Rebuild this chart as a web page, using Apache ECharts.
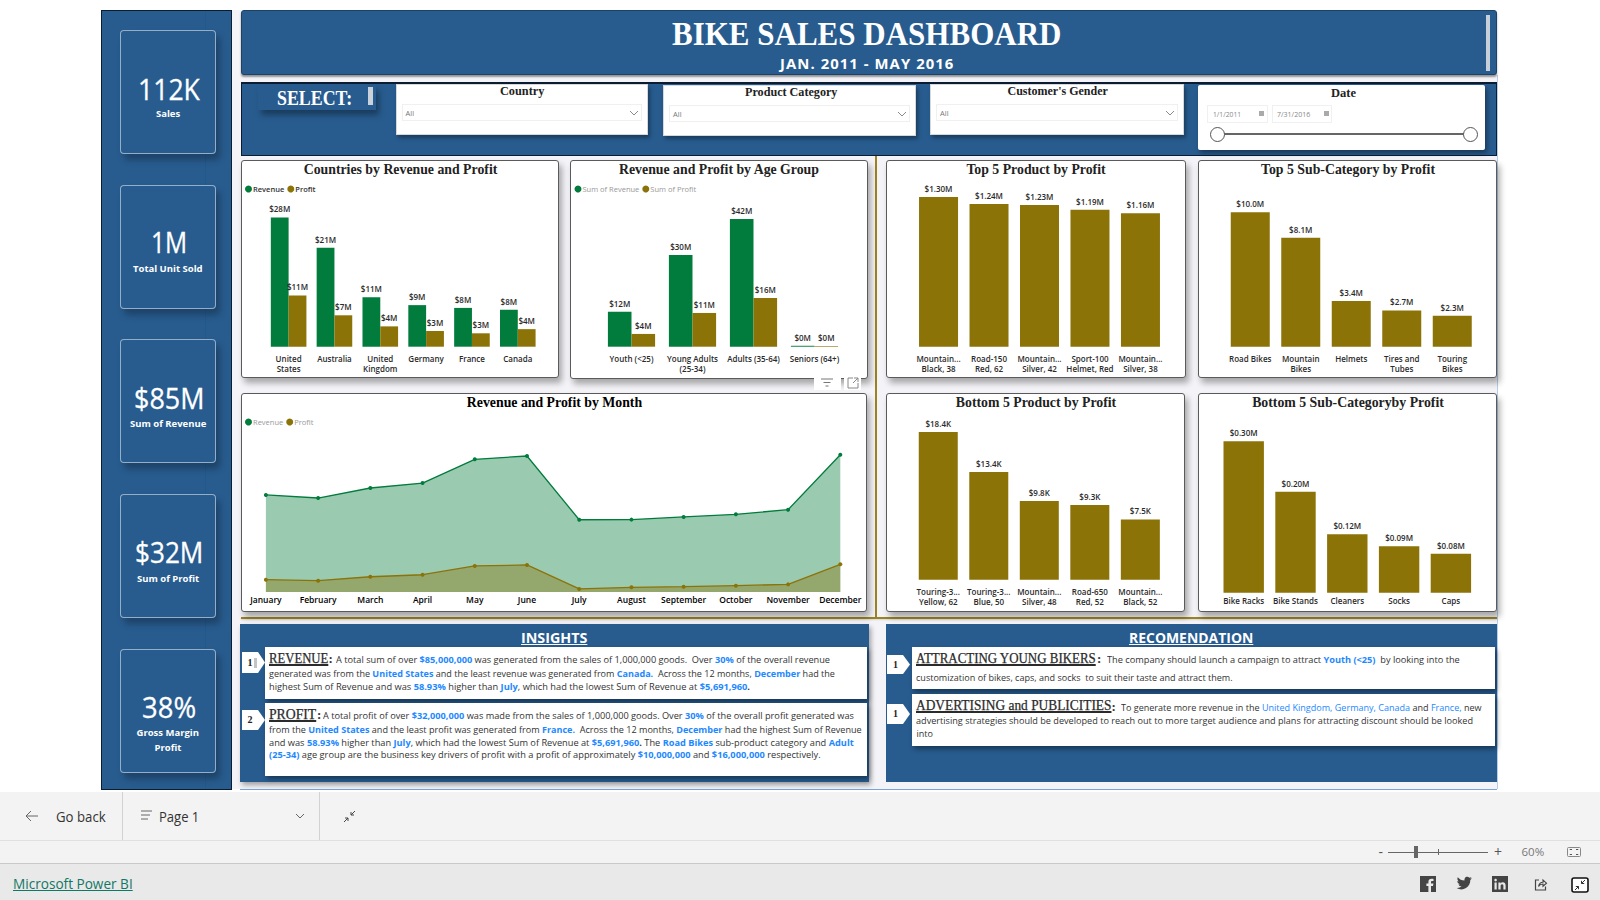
<!DOCTYPE html>
<html>
<head>
<meta charset="utf-8">
<title>Bike Sales Dashboard</title>
<script src="https://cdn.jsdelivr.net/npm/echarts@6/dist/echarts.min.js"></script>
<style>
  html, body { margin: 0; padding: 0; width: 1600px; height: 900px; overflow: hidden; background: #fff; font-family: "Open Sans", "Noto Sans", sans-serif; }
  .box { position: absolute; box-sizing: border-box; }
  .navy { background: #285c8f; }
  .panel { background: #fff; border: 1px solid #5a5a5a; border-radius: 3px; box-shadow: 3px 5px 6px rgba(0,0,0,.32); }
  .kpi { border: 1px solid rgba(255,255,255,.5); border-radius: 4px; box-shadow: 4px 6px 7px rgba(0,0,0,.28); }
  .card { background: #fff; box-shadow: 2px 3px 5px rgba(0,0,0,.4); }
  .t { position: absolute; white-space: pre; transform-origin: left center; }
  .h { color: #1e88ff; font-weight: 700; }
  .l { color: #1e88ff; }
  svg.i { position: absolute; overflow: visible; }
</style>
</head>
<body>
<script>
// Chart data
const countryNames = ['United\nStates', 'Australia', 'United\nKingdom', 'Germany', 'France', 'Canada'];
const countryRevenue = [28.0, 21.4, 10.7, 9.0, 8.4, 8.0];
const countryProfit = [11.1, 6.8, 4.4, 3.4, 2.9, 3.8];

const ageGroups = ['Youth (<25)', 'Young Adults\n(25-34)', 'Adults (35-64)', 'Seniors (64+)'];
const ageRevenue = [11.5, 30.2, 42.0, 0.3];
const ageProfit = [4.2, 11.1, 16.0, 0.2];

const monthNames = ['January', 'February', 'March', 'April', 'May', 'June', 'July', 'August', 'September', 'October', 'November', 'December'];
const monthRevenue = [7.64, 7.40, 8.19, 8.58, 10.45, 10.71, 5.69, 5.70, 5.91, 6.12, 6.48, 10.81];
const monthProfit = [0.97, 0.89, 1.20, 1.36, 2.05, 2.13, 0.24, 0.37, 0.42, 0.50, 0.60, 2.18];

const topProducts = ['Mountain...\nBlack, 38', 'Road-150\nRed, 62', 'Mountain...\nSilver, 42', 'Sport-100\nHelmet, Red', 'Mountain...\nSilver, 38'];
const topProductProfit = [1.30, 1.24, 1.23, 1.19, 1.16];

const topSubs = ['Road Bikes', 'Mountain\nBikes', 'Helmets', 'Tires and\nTubes', 'Touring\nBikes'];
const topSubProfit = [10.0, 8.1, 3.4, 2.7, 2.3];

const bottomProducts = ['Touring-3...\nYellow, 62', 'Touring-3...\nBlue, 50', 'Mountain...\nSilver, 48', 'Road-650\nRed, 52', 'Mountain...\nBlack, 52'];
const bottomProductProfit = [18.4, 13.4, 9.8, 9.3, 7.5];

const bottomSubs = ['Bike Racks', 'Bike Stands', 'Cleaners', 'Socks', 'Caps'];
const bottomSubProfit = [0.30, 0.20, 0.116, 0.092, 0.077];

const kpiValues = ['112K', '1M', '$85M', '$32M', '38%'];
const kpiLabels = ['Sales', 'Total Unit Sold', 'Sum of Revenue', 'Sum of Profit', 'Gross Margin\nProfit'];

// Palette and fonts
const GREEN = '#027c3c', GOLD = '#8b7308', RULE = '#9a8320';
const SERIF = '"Liberation Serif", serif';
const SANS = '"Open Sans", "Noto Sans", sans-serif';

// Small DOM helpers for the report frame
function box(x, y, w, h, cls, css) {
  const d = document.createElement('div');
  d.className = 'box ' + (cls || '');
  d.style.cssText = `left:${x}px;top:${y}px;width:${w}px;height:${h}px;` + (css || '');
  document.body.appendChild(d);
  return d;
}
// Places a single line of text centred on y; w squeezes it to a set width.
function text(o) {
  const d = document.createElement('div');
  d.className = 't';
  d.innerHTML = o.html;
  const lh = Math.round(o.size * 1.4);
  d.style.cssText = `top:${o.y - lh / 2}px;line-height:${lh}px;font-size:${o.size}px;font-family:${o.font || SANS};` +
    `font-weight:${o.weight || 400};color:${o.color || '#333'};` + (o.css || '');
  document.body.appendChild(d);
  const natural = d.offsetWidth;
  const w = o.w || natural;
  const left = o.cx !== undefined ? o.cx - w / 2 : o.x;
  d.style.left = left + 'px';
  if (o.w) d.style.transform = `scaleX(${o.w / natural})`;
  return d;
}
function icon(x, y, w, h, inner) {
  const s = document.createElementNS('http://www.w3.org/2000/svg', 'svg');
  s.setAttribute('class', 'i');
  s.setAttribute('width', w); s.setAttribute('height', h);
  s.setAttribute('viewBox', `0 0 ${w} ${h}`);
  s.style.left = x + 'px'; s.style.top = y + 'px';
  s.innerHTML = inner;
  document.body.appendChild(s);
}

// Report canvas
box(231, 10, 1266, 779, '', 'background:#f4f3f7;');
box(240, 788.5, 1257, 1, '', 'background:#7ba3d4;');
box(1497, 75, 1, 714, '', 'background:#b9cde6;');

// Left KPI rail
box(101, 10, 131, 780, 'navy', 'border:1px solid #0b1d33;');
box(205, 11, 1, 778, '', 'background:#1f5a8c;');
const kpiTops = [30, 185, 339, 494, 649];
const kpiValueY = [88.5, 242, 398, 552, 707];
const kpiLabelY = [113.5, 268.5, 423.5, 578, 732.5];
kpiValues.forEach((v, i) => {
  box(120, kpiTops[i], 96, 123.5, 'navy kpi');
  text({ cx: 168.5, y: kpiValueY[i], html: v, size: 30, color: '#fff', w: [62, 36, 70, 68, 54][i], css: '-webkit-text-stroke:.3px #fff;' });
  kpiLabels[i].split('\n').forEach((line, j) => {
    text({ cx: 168, y: kpiLabelY[i] + j * 14.5, html: line, size: 9.5, weight: 700, color: '#fff' });
  });
});

// Header band
box(241, 10, 1256, 65, 'navy', 'border-radius:3px;border:1px solid #1d4268;box-shadow:0 2px 2px rgba(0,0,0,.4);');
text({ cx: 866.5, y: 34, html: 'BIKE SALES DASHBOARD', size: 33, weight: 700, font: SERIF, color: '#fff', w: 389 });
text({ cx: 866.5, y: 63.5, html: 'JAN. 2011 - MAY 2016', size: 14, weight: 700, color: '#fff', w: 174, css: 'letter-spacing:1px;' });
box(1486, 15, 4, 56, '', 'background:#c6d0da;');

// Filter band
box(241, 82, 1256, 74, 'navy', 'border:1px solid #0b1d33;border-top:2px solid #0b1d33;');
box(258, 85, 118, 25, 'navy', 'box-shadow:3px 5px 6px rgba(0,0,0,.35);');
text({ x: 277, y: 98, html: 'SELECT:', size: 20, weight: 700, font: SERIF, color: '#fff', w: 75 });
box(368, 87, 5, 18, '', 'background:#c9d2da;');

const chevron = '<path d="M1 1 L5 5 L9 1" fill="none" stroke="#8a8a8a" stroke-width="1"/>';
[[395.5, 84, 252, 'Country', 44, 522, 91.2], [663, 85, 253, 'Product Category', 92, 790.5, 92.2], [930, 84, 254, "Customer's Gender", 100, 1057.5, 91.5]].forEach(s => {
  const [x, y, w, name, tw, cx, ty] = s;
  box(x, y, w, 51, 'card', 'box-shadow:2px 3px 4px rgba(0,0,0,.35);border:1px solid #d8d8d8;');
  text({ cx, y: ty, html: name, size: 12, weight: 700, font: SERIF, color: '#222', w: tw });
  box(x + 6, y + 20, w - 12, 17, '', 'border:1px solid #f0f0f0;');
  text({ x: x + 10, y: y + 29, html: 'All', size: 7.5, color: '#777' });
  icon(x + w - 19, y + 26, 10, 6, chevron);
});

// Date slicer
box(1198, 85, 287, 65, 'card', 'border-radius:2px;');
text({ cx: 1343, y: 93.5, html: 'Date', size: 12, weight: 700, font: SERIF, color: '#222', w: 25 });
box(1207, 105, 61, 18, '', 'border:1px solid #f0f0f0;');
box(1272, 105, 60, 18, '', 'border:1px solid #f0f0f0;');
text({ x: 1213, y: 114.5, html: '1/1/2011', size: 7, color: '#888', w: 28 });
text({ x: 1277, y: 114.5, html: '7/31/2016', size: 7, color: '#888', w: 33 });
box(1259, 111, 5, 5, '', 'background:#aaa;');
box(1324, 111, 5, 5, '', 'background:#aaa;');
box(1217, 133, 253, 2, '', 'background:#666;');
box(1210, 127, 15, 15, '', 'background:#fff;border:1.5px solid #555;border-radius:50%;');
box(1463, 127, 15, 15, '', 'background:#fff;border:1.5px solid #555;border-radius:50%;');

// Gold dividers between the chart groups
box(874.5, 156, 2, 463, '', `background:${RULE};`);
box(241, 617, 1256, 2, '', `background:${RULE};box-shadow:0 1px 2px rgba(0,0,0,.12);`);

// Chart factory: each visual gets its own panel and ECharts instance, laid out in page pixels.
function makeChart(rect, title, titleCx, titleY, titleStyle, legend, xAxis, yMax, plot, series) {
  const [x, y, w, h] = rect;
  const el = box(x, y, w, h, 'panel');
  const chart = echarts.init(el, null, { renderer: 'svg', width: w - 2, height: h - 2 });
  const opt = {
    animation: false,
    title: {
      text: title, left: titleCx - x - 1, top: titleY - y - 1, textAlign: 'center', textVerticalAlign: 'middle', padding: 0,
      textStyle: Object.assign({ fontFamily: SERIF, fontSize: 13.8, fontWeight: 700, color: '#222' }, titleStyle)
    },
    grid: { left: plot.left - x - 1, right: x + w - 1 - plot.right, top: plot.top - y - 1, bottom: y + h - 1 - plot.base, containLabel: false },
    xAxis: Object.assign({
      type: 'category', data: xAxis.data, boundaryGap: xAxis.boundaryGap !== false,
      axisLine: { show: false }, axisTick: { show: false }, splitLine: { show: false },
      axisLabel: { interval: 0, color: xAxis.color || '#2a2a2a', fontFamily: SANS, fontSize: xAxis.size || 8, fontWeight: xAxis.weight || 600, lineHeight: 10, margin: xAxis.margin }
    }),
    yAxis: { type: 'value', min: 0, max: yMax, show: false, splitLine: { show: false } },
    series
  };
  if (legend) {
    opt.legend = {
      left: legend.x - x - 1, top: legend.y - y - 5, padding: 0, icon: 'circle', itemWidth: 7, itemHeight: 7, itemGap: 3,
      data: legend.names,
      textStyle: { fontFamily: SANS, fontSize: 7.5, fontWeight: legend.weight || 400, color: legend.color, padding: [0, 0, 0, -4] }
    };
  }
  chart.setOption(opt);
  return chart;
}
function barSeries(name, data, color, width, fmt) {
  return {
    type: 'bar', name, data, barWidth: width, barGap: 0,
    itemStyle: { color },
    label: { show: true, position: 'top', distance: 4.5, formatter: p => fmt(p.value), fontFamily: SANS, fontSize: 8, fontWeight: 600, color: '#2a2a2a' }
  };
}
const wholeM = v => `$${Math.round(v)}M`;
const oneM = v => `$${v.toFixed(1)}M`;
const twoM = v => `$${v.toFixed(2)}M`;
const oneK = v => `$${v.toFixed(1)}K`;

makeChart([241, 160, 318, 218], 'Countries by Revenue and Profit', 400.5, 169.7, {}, { x: 245, y: 189, names: ['Revenue', 'Profit'], color: '#333', weight: 600 },
  { data: countryNames, margin: 7 }, 32, { left: 265.7, right: 540.7, top: 198.9, base: 346.7 },
  [barSeries('Revenue', countryRevenue, GREEN, 17.8, wholeM), barSeries('Profit', countryProfit, GOLD, 17.8, wholeM)]);

makeChart([569.5, 160, 298, 219], 'Revenue and Profit by Age Group', 718.5, 169.7, {}, { x: 574, y: 189, names: ['Sum of Revenue', 'Sum of Profit'], color: '#999' },
  { data: ageGroups, margin: 7 }, 48, { left: 600.5, right: 844.5, top: 200.8, base: 346.7 },
  [barSeries('Sum of Revenue', ageRevenue, GREEN, 23.6, wholeM), barSeries('Sum of Profit', ageProfit, GOLD, 23.6, wholeM)]);

makeChart([886, 160, 300, 218], 'Top 5 Product by Profit', 1036, 169.7, {}, null,
  { data: topProducts, margin: 7 }, 1.4, { left: 913.3, right: 1165.7, top: 185.5, base: 346.7 },
  [barSeries('Profit', topProductProfit, GOLD, 39, twoM)]);

makeChart([1198, 160, 299, 218], 'Top 5 Sub-Category by Profit', 1348, 169.7, {}, null,
  { data: topSubs, margin: 7 }, 12, { left: 1225, right: 1477.5, top: 185.4, base: 346.7 },
  [barSeries('Profit', topSubProfit, GOLD, 39, oneM)]);

makeChart([240.5, 393, 626.5, 219], 'Revenue and Profit by Month', 554, 402.7, { color: '#000' }, { x: 244.5, y: 422, names: ['Revenue', 'Profit'], color: '#999' },
  { data: monthNames, boundaryGap: false, margin: 2, size: 8.5, color: '#000' }, 15, { left: 265.4, right: 839.8, top: 401.5, base: 592 },
  [
    { type: 'line', name: 'Revenue', data: monthRevenue, symbol: 'circle', symbolSize: 4, lineStyle: { color: GREEN, width: 1.3 }, itemStyle: { color: GREEN }, areaStyle: { color: GREEN, opacity: 0.4 } },
    { type: 'line', name: 'Profit', data: monthProfit, symbol: 'circle', symbolSize: 4, lineStyle: { color: GOLD, width: 1.3 }, itemStyle: { color: GOLD }, areaStyle: { color: GOLD, opacity: 0.4 } }
  ]);

makeChart([886, 393, 299, 219], 'Bottom 5 Product by Profit', 1036, 402, {}, null,
  { data: bottomProducts, margin: 7 }, 22, { left: 913, right: 1165.6, top: 403, base: 579.7 },
  [barSeries('Profit', bottomProductProfit, GOLD, 39, oneK)]);

makeChart([1198, 393, 299, 219], 'Bottom 5 Sub-Categoryby Profit', 1348, 402, {}, null,
  { data: bottomSubs, margin: 3 }, 0.34, { left: 1217.8, right: 1476.8, top: 421.1, base: 592.7 },
  [barSeries('Profit', bottomSubProfit, GOLD, 40.4, twoM)]);

// Visual header buttons above the month panel
box(814, 375, 27, 15, '', 'background:#fff;');
box(844, 375, 17, 15, '', 'background:#fff;');
icon(820, 378, 14, 10, '<path d="M1 1H13M3.5 4.5H10.5M5.5 8H8.5" stroke="#777" stroke-width="1" fill="none"/>');
icon(847, 377, 12, 12, '<path d="M6 1H1V11H11V6M7 1H11V5M11 1L6 6" stroke="#888" stroke-width="1" fill="none"/>');

// Insights block
function tag(x, y, w, h, n) {
  icon(x, y, w, h, `<polygon points="0,0 ${w - 7},0 ${w},${h / 2} ${w - 7},${h} 0,${h}" fill="#fff"/>`);
  text({ x: x + 6, y: y + h / 2, html: n, size: 10, weight: 700, color: '#222', font: SERIF });
}
const LEAD = { size: 14, font: SERIF, weight: 400, color: '#2b2b2b', css: 'text-decoration:underline;text-decoration-thickness:1.5px;-webkit-text-stroke:.25px #2b2b2b;' };

box(240, 624, 628.5, 158, 'navy', 'box-shadow:2px 3px 5px rgba(0,0,0,.35);');
text({ cx: 553.5, y: 638, html: 'INSIGHTS', size: 14.5, weight: 700, color: '#fff', w: 66, css: 'text-decoration:underline;' });
box(265, 647, 602, 52, 'card');
box(265, 703, 602, 73, 'card');
tag(241.5, 652, 23, 21, '1');
box(254, 658, 3, 10, '', 'background:#c4c4c4;');
tag(241.5, 710, 23, 20, '2');

text(Object.assign({}, LEAD, { x: 269.4, y: 658.5, html: 'REVENUE', w: 59 }));
text({ x: 328.5, y: 659, html: ':', size: 13, font: SERIF, weight: 700, color: '#333' });
text({ x: 335.8, y: 659.7, w: 494, size: 9, html: 'A total sum of over <span class="h">$85,000,000</span> was generated from the sales of 1,000,000 goods.&nbsp; Over <span class="h">30%</span> of the overall revenue' });
text({ x: 269.4, y: 673.7, w: 566, size: 9, html: 'generated was from the <span class="h">United States</span> and the least revenue was generated from <span class="h">Canada.</span>&nbsp; Across the 12 months, <span class="h">December</span> had the' });
text({ x: 269.4, y: 686.7, w: 480.6, size: 9, html: 'highest Sum of Revenue and was <span class="h">58.93%</span> higher than <span class="h">July</span>, which had the lowest Sum of Revenue at <span class="h">$5,691,960</span><b>.</b>' });

text(Object.assign({}, LEAD, { x: 269.4, y: 714.5, html: 'PROFIT', w: 47 }));
text({ x: 317, y: 715, html: ':', size: 13, font: SERIF, weight: 700, color: '#333' });
text({ x: 323, y: 715.7, w: 530.7, size: 9, html: 'A total profit of over <span class="h">$32,000,000</span> was made from the sales of 1,000,000 goods. Over <span class="h">30%</span> of the overall profit generated was' });
text({ x: 269.4, y: 729.7, w: 592.6, size: 9, html: 'from the <span class="h">United States</span> and the least profit was generated from <span class="h">France.</span>&nbsp; Across the 12 months, <span class="h">December</span> had the highest Sum of Revenue' });
text({ x: 269.4, y: 742.7, w: 584.3, size: 9, html: 'and was <span class="h">58.93%</span> higher than <span class="h">July</span>, which had the lowest Sum of Revenue at <span class="h">$5,691,960</span><b>.</b> The <span class="h">Road Bikes</span> sub-product category and <span class="h">Adult</span>' });
text({ x: 269.4, y: 754.7, w: 552, size: 9, html: '<span class="h">(25-34)</span> age group are the business key drivers of profit with a profit of approximately <span class="h">$10,000,000</span> and <span class="h">$16,000,000</span> respectively.' });

// Recommendation block
box(886, 624, 611, 158, 'navy');
text({ cx: 1191, y: 638, html: 'RECOMENDATION', size: 14.5, weight: 700, color: '#fff', w: 124, css: 'text-decoration:underline;' });
box(912, 647, 583, 42, 'card');
box(912, 694, 583, 52, 'card');
tag(887, 655, 23, 19, '1');
tag(887, 704, 23, 20, '1');

text(Object.assign({}, LEAD, { x: 916.4, y: 658.5, html: 'ATTRACTING YOUNG BIKERS', w: 180 }));
text({ x: 1097, y: 659, html: ':', size: 13, font: SERIF, weight: 700, color: '#333' });
text({ x: 1107, y: 659.7, w: 353, size: 9, html: 'The company should launch a campaign to attract <span class="h">Youth (&lt;25)</span>&nbsp; by looking into the' });
text({ x: 916.4, y: 677.7, w: 316.6, size: 9, html: 'customization of bikes, caps, and socks&nbsp; to suit their taste and attract them.' });

text(Object.assign({}, LEAD, { x: 916.4, y: 706, html: 'ADVERTISING and PUBLICITIES', w: 195 }));
text({ x: 1111.5, y: 706.5, html: ':', size: 13, font: SERIF, weight: 700, color: '#333' });
text({ x: 1121, y: 707, w: 360.6, size: 9, html: 'To generate more revenue in the <span class="l">United Kingdom, Germany, Canada</span> and <span class="l">France,</span> new' });
text({ x: 916.4, y: 720.7, w: 557.3, size: 9, html: 'advertising strategies should be developed to reach out to more target audience and plans for attracting discount should be looked' });
text({ x: 916.4, y: 733.7, size: 9, html: 'into' });

// Viewer chrome along the bottom
box(0, 792, 1600, 71, '', 'background:#f3f3f3;');
box(0, 840, 1600, 1, '', 'background:#e0e0e0;');
box(0, 863, 1600, 1, '', 'background:#c9c9c9;');
box(0, 864, 1600, 36, '', 'background:#e9e9e9;');
box(122, 792, 1, 48, '', 'background:#d2d2d2;');
box(319, 792, 1, 48, '', 'background:#d2d2d2;');
icon(25, 810, 14, 12, '<path d="M13 6H1M6 1L1 6L6 11" fill="none" stroke="#666" stroke-width="1"/>');
text({ x: 56, y: 817, html: 'Go back', size: 14, color: '#333', w: 50 });
icon(141, 810, 12, 10, '<path d="M0 1H11M0 5H9M0 9H7" stroke="#666" stroke-width="1" fill="none"/>');
text({ x: 159, y: 816.5, html: 'Page 1', size: 14, color: '#333', w: 40 });
icon(295, 813, 10, 6, '<path d="M1 1L5 5L9 1" fill="none" stroke="#666" stroke-width="1"/>');
icon(343, 810, 13, 13, '<path d="M8 5L12 1M8 2V5H11M5 8L1 12M2 8H5V11" fill="none" stroke="#444" stroke-width="1"/>');
text({ x: 13, y: 884, html: 'Microsoft Power BI', size: 14.5, color: '#117865', w: 120, css: 'text-decoration:underline;' });

text({ cx: 1381, y: 852, html: '-', size: 14, color: '#555' });
box(1388, 852, 100, 1, '', 'background:#666;');
box(1414, 846, 4, 12, '', 'background:#666;');
box(1438, 849, 1, 6, '', 'background:#666;');
text({ cx: 1498, y: 851.5, html: '+', size: 14, color: '#555' });
text({ cx: 1533, y: 852, html: '60%', size: 11.5, color: '#777' });
icon(1567, 847, 14, 10, '<rect x="0.5" y="0.5" width="13" height="9" rx="1" fill="none" stroke="#888"/><path d="M3 3V2.5H5M9 2.5H11V3M3 7V7.5H5M9 7.5H11V7" stroke="#555" fill="none"/>');

icon(1420, 876, 16, 16, '<rect width="16" height="16" fill="#444"/><path d="M11 16V10H13L13.4 7.6H11V6.2C11 5.4 11.3 5 12.2 5H13.5V2.9C13 2.8 12.3 2.8 11.6 2.8C9.6 2.8 8.4 4 8.4 6V7.6H6.4V10H8.4V16Z" fill="#e9e9e9"/>');
icon(1456, 876, 16, 14, '<path d="M15.8 2.2C15.2 2.4 14.6 2.6 14 2.7C14.7 2.3 15.2 1.6 15.4 0.9C14.8 1.3 14.1 1.5 13.4 1.7C12.1 0.3 9.8 0.6 8.8 2.2C8.4 3 8.3 3.8 8.5 4.6C5.8 4.5 3.4 3.2 1.8 1.2C1 2.6 1.4 4.5 2.8 5.4C2.3 5.4 1.8 5.2 1.3 5C1.3 6.6 2.4 7.9 4 8.3C3.5 8.4 3 8.4 2.5 8.3C2.9 9.6 4.2 10.6 5.6 10.6C4.2 11.7 2.4 12.2 0.6 12C5 14.8 11 13.2 13.3 8.6C14 7.2 14.4 5.7 14.3 4.1C14.9 3.6 15.4 3 15.8 2.2Z" fill="#444"/>');
icon(1492, 876, 16, 16, '<rect width="16" height="16" fill="#444"/><path d="M2.5 6.5H4.7V13.5H2.5ZM3.6 2.8C4.3 2.8 4.9 3.4 4.9 4.1S4.3 5.4 3.6 5.4S2.3 4.8 2.3 4.1S2.9 2.8 3.6 2.8ZM6.4 6.5H8.5V7.5C9 6.7 9.8 6.3 10.8 6.3C12.8 6.3 13.6 7.6 13.6 9.6V13.5H11.4V10C11.4 9 11.1 8.2 10.1 8.2S8.6 9 8.6 10V13.5H6.4Z" fill="#e9e9e9"/>');
icon(1534, 878, 13, 13, '<path d="M5 2H1.5V12H11.5V8.5" fill="none" stroke="#444" stroke-width="1.2"/><path d="M4.5 8.5C5 5.5 7 4.2 9 4.2V2L12.5 5.2L9 8.2V6C7.3 6 5.5 6.8 4.5 8.5Z" fill="none" stroke="#444" stroke-width="1.1"/>');
icon(1571, 877, 18, 16, '<rect x="1" y="1" width="16" height="14" rx="2" fill="#fff" stroke="#111" stroke-width="1.6"/><path d="M10.5 6.5L14 3M10.5 3.8V6.5H13.2M7.5 9.5L4 13M4.8 9.5H7.5V12.2" fill="none" stroke="#333" stroke-width="1"/>');
</script>
</body>
</html>
